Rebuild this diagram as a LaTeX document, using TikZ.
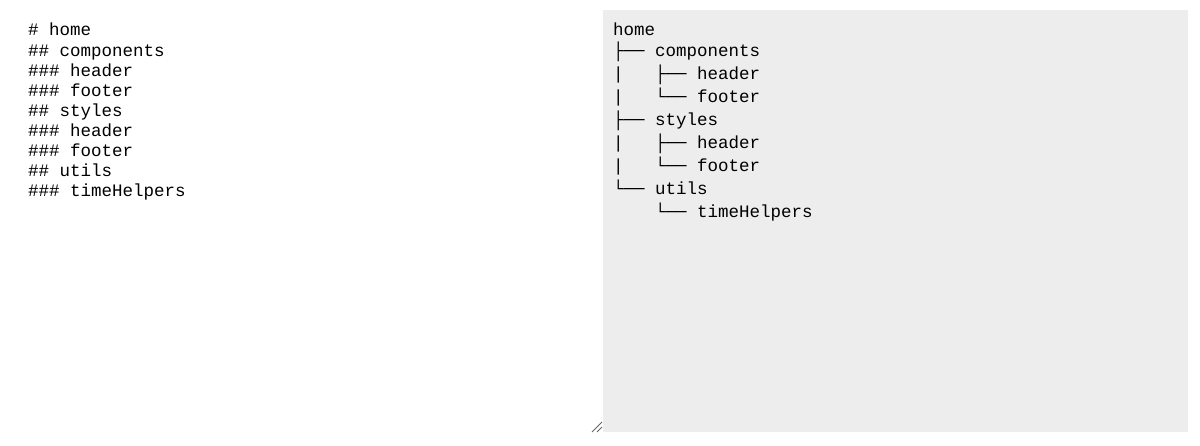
\documentclass[tikz,border=0pt]{standalone}
\usepackage{fontspec}
\setmonofont{Liberation Mono}
\begin{document}
\begin{tikzpicture}[x=1pt,y=-1pt,txt/.style={anchor=base west,inner sep=0pt,font=\ttfamily\fontsize{17.5}{20}\selectfont}]
\useasboundingbox (0,0) rectangle (1200,446);
\fill[white] (0,0) rectangle (1200,446);
\fill[black!7] (603,10) rectangle (1188,432);
\draw[black!60,line width=0.8pt] (592,432) -- (602,422) (597,432) -- (602,427);
\foreach \t [count=\i] in {\# home,\#\# components,\#\#\# header,\#\#\# footer,\#\# styles,\#\#\# header,\#\#\# footer,\#\# utils,\#\#\# timeHelpers}
  \node[txt] (l\i) at (28,{36+20.1*(\i-1)}) {\t};
\node[txt] (r1) at (613,36) {home};
\node[txt] (r2) at (613,57) {├──\ components};
\node[txt] (r3) at (613,80) {|\ \ \ ├──\ header};
\node[txt] (r4) at (613,103) {|\ \ \ └──\ footer};
\node[txt] (r5) at (613,126) {├──\ styles};
\node[txt] (r6) at (613,149) {|\ \ \ ├──\ header};
\node[txt] (r7) at (613,172) {|\ \ \ └──\ footer};
\node[txt] (r8) at (613,195) {└──\ utils};
\node[txt] (r9) at (613,218) {\ \ \ \ └──\ timeHelpers};
\end{tikzpicture}
\end{document}
